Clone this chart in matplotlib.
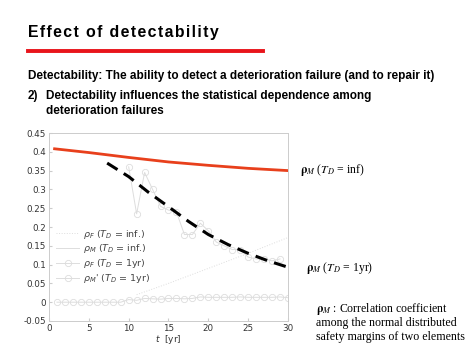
import numpy as np
import matplotlib.pyplot as plt

# rho_M (T_D = inf), red
t_inf = [0.7, 5, 10, 15, 20, 25, 30]
rho_m_inf = [0.408, 0.398, 0.385, 0.373, 0.364, 0.356, 0.350]

# rho_M (T_D = 1yr), black dashed
t_1yr = [7.3, 10, 12.5, 15, 17.5, 20, 22.5, 25, 27.5, 30]
rho_m_1yr = [0.370, 0.334, 0.292, 0.254, 0.215, 0.180, 0.153, 0.130, 0.110, 0.093]

# faint gray series (from the original matlab figure)
t_f_inf = [11, 15, 20, 25, 30]
rho_f_inf = [0.020, 0.050, 0.090, 0.130, 0.172]

t_years = list(range(1, 31))
rho_f_1yr = [0, 0, 0, 0, 0, 0, 0, 0, 0, 0.007, 0.005, 0.010, 0.009, 0.008, 0.010,
             0.010, 0.009, 0.010, 0.014, 0.013, 0.013, 0.013, 0.013, 0.014, 0.013,
             0.013, 0.013, 0.013, 0.014, 0.012]

t_mp = list(range(10, 30))
rho_mp_1yr = [0.360, 0.235, 0.345, 0.300, 0.255, 0.245, 0.240, 0.180, 0.180, 0.210,
              0.190, 0.160, 0.150, 0.140, 0.140, 0.120, 0.115, 0.115, 0.110, 0.115]

fig = plt.figure(figsize=(4.74, 3.55), dpi=100)

# slide header
title = "\u200a".join("Effect of detectability")
fig.text(28/474, 1 - 33/355, title, fontsize=11.4, fontweight="bold", family="Liberation Sans", va="center")
fig.add_artist(plt.Line2D([28/474, 263/474], [1 - 50.5/355, 1 - 50.5/355], color="#e8141b", lw=2.8))
hdr = dict(fontsize=8.5, fontweight="bold", family="Liberation Sans", va="center")
fig.text(28/474, 1 - 76/355, "Detectability: The ability to detect a deterioration failure (and to repair it)", **hdr)
fig.text(28/474, 1 - 96/355, "2)", **hdr)
fig.text(46/474, 1 - 96/355, "Detectability influences the statistical dependence among", **hdr)
fig.text(46/474, 1 - 111/355, "deterioration failures", **hdr)

ax = fig.add_axes([49/474, 1 - 321/355, 239/474, 188/355])
gray = "#dddddd"
ax.plot(t_f_inf, rho_f_inf, color=gray, lw=0.7, ls=":", label=r"$\rho_F$ ($T_D$ = inf.)")
ax.plot(t_inf, rho_m_inf, color=gray, lw=0.7, label=r"$\rho_M$ ($T_D$ = inf.)")
ax.plot(t_years, rho_f_1yr, color=gray, lw=0.7, marker="o", ms=4.5, mfc="none", mew=0.6,
        label=r"$\rho_F$ ($T_D$ = 1yr)")
ax.plot(t_mp, rho_mp_1yr, color=gray, lw=0.7, marker="o", ms=4.5, mfc="none", mew=0.6,
        label=r"$\rho_M$' ($T_D$ = 1yr)")
ax.plot(t_inf, rho_m_inf, color="#e8401c", lw=2.0)
ax.plot(t_1yr, rho_m_1yr, color="black", lw=2.2, ls=(0, (4, 2.4)))

ax.set_xlim(0, 30)
ax.set_ylim(-0.05, 0.45)
ax.set_xticks([0, 5, 10, 15, 20, 25, 30])
ax.set_yticks(np.arange(-0.05, 0.46, 0.05))
ax.set_yticklabels(["-0.05", "0", "0.05", "0.1", "0.15", "0.2", "0.25", "0.3", "0.35", "0.4", "0.45"])
ax.tick_params(labelsize=6.3, colors="#333333", direction="in", length=2, color="#cccccc", pad=2)
for s in ax.spines.values():
    s.set_color("#cccccc")
    s.set_linewidth(0.7)
ax.set_xlabel(r"$t$  [yr]", fontsize=6.5, color="#333333", labelpad=0)

leg = ax.legend(loc="lower left", bbox_to_anchor=(0.015, 0.17), frameon=False, fontsize=6.8,
                handlelength=2.4, labelspacing=0.2, handletextpad=0.4, borderaxespad=0)
for txt in leg.get_texts():
    txt.set_color("#444444")

# annotations on the right
serif = "Liberation Serif"
fig.text(300/474, 1 - 170/355, r"$\mathbf{\rho}_{M}$ ($T_D$ = inf)", fontsize=8.5, family=serif,
         va="center", math_fontfamily="stix")
fig.text(306/474, 1 - 268/355, r"$\mathbf{\rho}_{M}$ ($T_D$ = 1yr)", fontsize=8.5, family=serif,
         va="center", math_fontfamily="stix")
fig.text(316/474, 1 - 309/355, r"$\mathbf{\rho}_{M}$ : Correlation coefficient", fontsize=8.5,
         family=serif, va="center", math_fontfamily="stix")
fig.text(316/474, 1 - 323/355, "among the normal distributed", fontsize=8.55, family=serif, va="center")
fig.text(316/474, 1 - 337/355, "safety margins of two elements", fontsize=8.55, family=serif, va="center")

fig.savefig("out.png", dpi=100)
